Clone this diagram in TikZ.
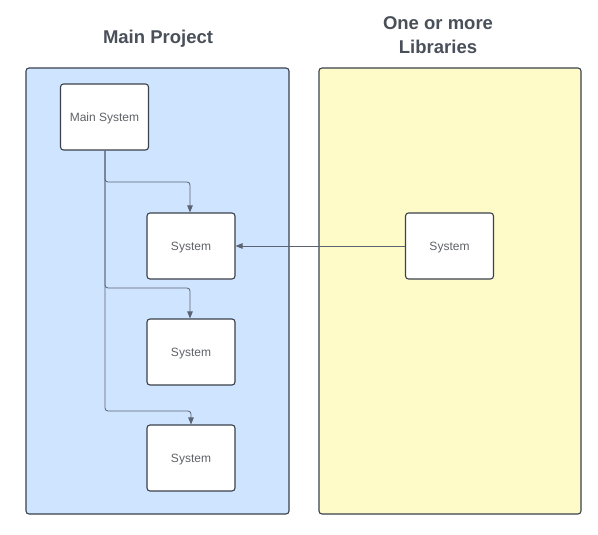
\documentclass[tikz,border=0pt]{standalone}
\usepackage{fontspec}
\setmainfont{Liberation Sans}
\usetikzlibrary{arrows.meta}
\definecolor{panelblue}{HTML}{CFE4FF}
\definecolor{panelyellow}{HTML}{FEFBC9}
\definecolor{edgegray}{HTML}{3A414A}
\definecolor{linegray}{HTML}{5B6372}
\definecolor{textgray}{HTML}{5F6368}
\definecolor{titlegray}{HTML}{4A505A}
\begin{document}
\begin{tikzpicture}[x=1pt,y=-1pt,
  panel/.style={draw=edgegray,line width=1.1pt,rounded corners=3pt},
  sysbox/.style={draw=edgegray,line width=1.1pt,fill=white,rounded corners=3pt,
    minimum width=88pt,minimum height=66pt,inner sep=0pt,
    font=\fontsize{12}{14}\selectfont,text=textgray,text depth=0pt},
  title/.style={font=\fontsize{18.5}{24}\selectfont\bfseries,text=titlegray,align=center},
  conn/.style={draw=linegray,line width=0.8pt,rounded corners=3pt},
  arr/.style={-{Triangle[length=7pt,width=5.5pt]}}
]
\useasboundingbox (0,0) rectangle (598,535);
\fill[white] (0,0) rectangle (598,535);
\path[panel,fill=panelblue] (26,68) rectangle (289,514);
\path[panel,fill=panelyellow] (319,68) rectangle (581,514);
\node[title] (t1) at (158,38.5) {Main Project};
\node[title] (t2) at (438,35.5) {One or more\\Libraries};
\node[sysbox] (main) at (104.5,117) {Main System};
\node[sysbox] (s1) at (191,246) {System};
\node[sysbox] (s2) at (191,352) {System};
\node[sysbox] (s3) at (191,458) {System};
\node[sysbox] (lib) at (449.5,246) {System};
\coordinate (trunk) at (105,0);
\draw[conn,arr] (main.south -| trunk) |- (190,182) -- (s1.north -| 190,0);
\draw[conn,arr] (main.south -| trunk) |- (190,288) -- (s2.north -| 190,0);
\draw[conn,arr] (main.south -| trunk) |- (191,411) -- (s3.north -| 191,0);
\draw[conn,arr] (lib.west) -- (s1.east);
\end{tikzpicture}
\end{document}
